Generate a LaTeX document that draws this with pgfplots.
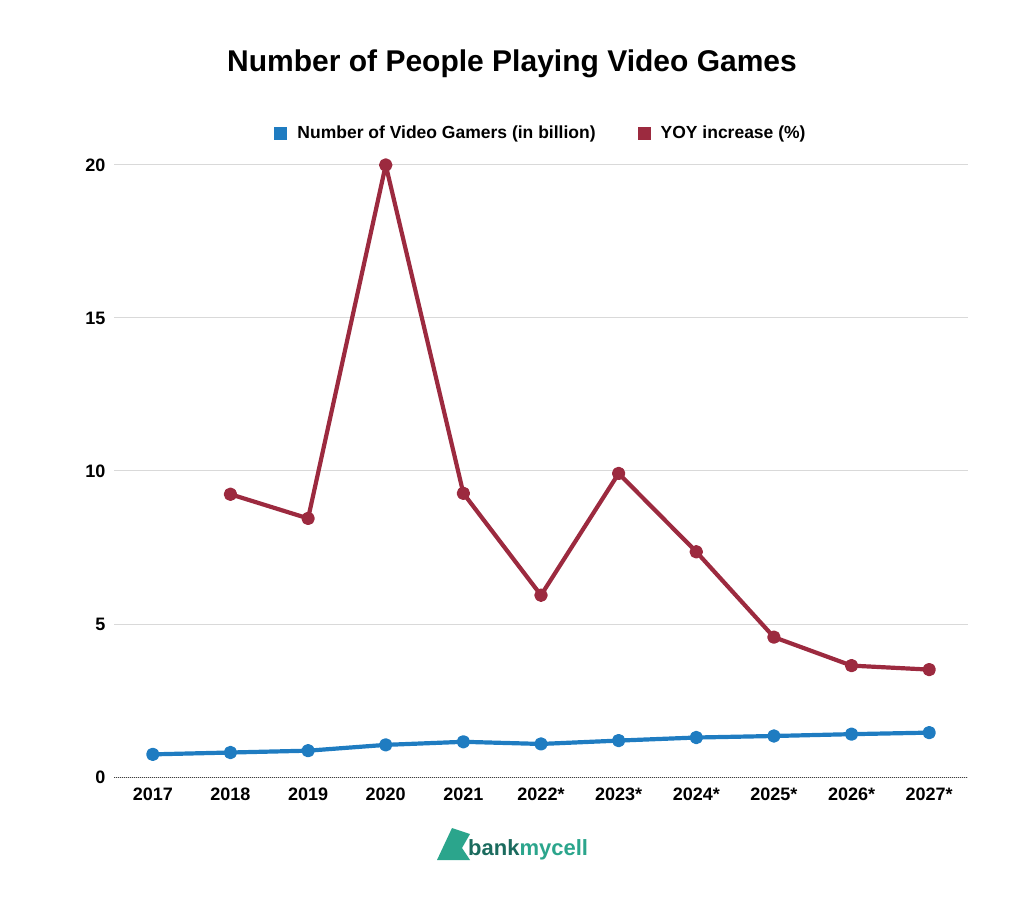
\documentclass[border=0pt]{standalone}
\usepackage{fontspec}
\setmainfont{Liberation Sans}
\usepackage{pgfplots}
\pgfplotsset{compat=1.18}
\definecolor{gamerblue}{HTML}{1F7CC1}
\definecolor{yoyred}{HTML}{9C2A3F}
\definecolor{gridgrey}{HTML}{D9D9D9}
\definecolor{bankdark}{HTML}{1B6B5E}
\definecolor{banklight}{HTML}{2BA58C}

\begin{document}
\begin{tikzpicture}[x=1pt,y=1pt]
\path[use as bounding box] (0,0) rectangle (1024,900);

\node[font=\fontsize{30}{30}\selectfont\bfseries] at (512,836) {Number of People Playing Video Games};

\begin{axis}[
    at={(114pt,123pt)}, anchor=south west,
    scale only axis,
    width=854pt, height=612pt,
    xmin=-0.5, xmax=10.5,
    ymin=0, ymax=20,
    xtick={0,1,2,3,4,5,6,7,8,9,10},
    xticklabels={2017,2018,2019,2020,2021,2022*,2023*,2024*,2025*,2026*,2027*},
    ytick={0,5,10,15,20},
    axis line style={draw=none},
    major tick length=0pt,
    ymajorgrids=true,
    grid style={gridgrey, line width=1pt},
    extra y ticks={0},
    extra y tick labels={},
    extra y tick style={grid style={black!75, densely dotted, line width=1pt}},
    ticklabel style={font=\fontsize{18}{18}\selectfont\bfseries},
    /pgf/number format/assume math mode=true,
    yticklabel style={xshift=-5pt},
    xticklabel style={yshift=-7pt},
    legend columns=2,
    legend style={at={(0.5,1.052)}, anchor=center, draw=none, fill=none,
        font=\fontsize{17.5}{17.5}\selectfont\bfseries,
        /tikz/every even column/.append style={column sep=40pt}},
    legend image code/.code={\fill[#1, draw=none] (0pt,-6.5pt) rectangle (13pt,6.5pt);
        \path[draw=none, fill=none] (0pt,0pt) -- (21pt,0pt);},
    clip=false,
]

% Number of video gamers (billion)
\addplot[color=gamerblue, line width=4.2pt, line join=round, mark=*, mark size=4.6pt] coordinates {
    (0, 0.74)
    (1, 0.80)
    (2, 0.86)
    (3, 1.05)
    (4, 1.15)
    (5, 1.08)
    (6, 1.19)
    (7, 1.29)
    (8, 1.34)
    (9, 1.40)
    (10, 1.45)
};

% YOY increase (%)
\addplot[color=yoyred, line width=4.2pt, line join=round, mark=*, mark size=4.6pt] coordinates {
    (1, 9.24)
    (2, 8.45)
    (3, 20.0)
    (4, 9.27)
    (5, 5.94)
    (6, 9.92)
    (7, 7.36)
    (8, 4.57)
    (9, 3.64)
    (10, 3.51)
};

\legend{Number of Video Gamers (in billion), YOY increase (\%)}
\end{axis}

% source logo
\fill[banklight] (437,40) -- (452,72) -- (470,66) -- (462,52) -- (470,40) -- cycle;
\node[anchor=west, font=\fontsize{22}{22}\selectfont\bfseries, inner sep=0pt] at (468,50)
    {\textcolor{bankdark}{bank}\textcolor{banklight}{mycell}};
\end{tikzpicture}
\end{document}
